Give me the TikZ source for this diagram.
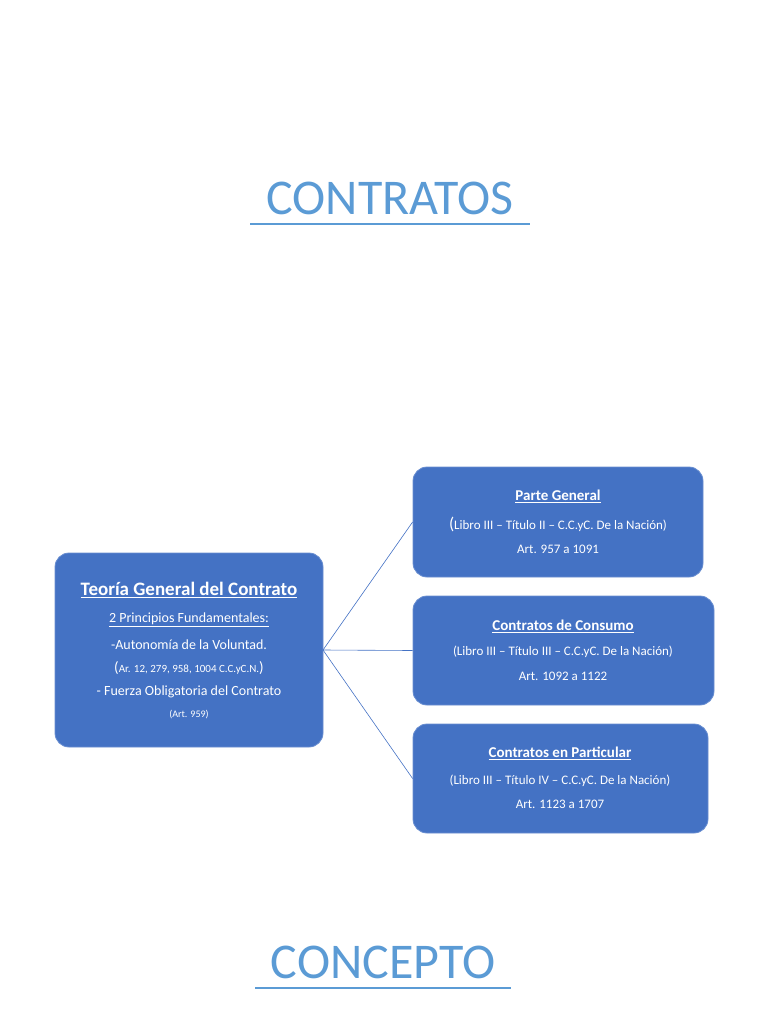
\documentclass[tikz,border=0pt]{standalone}
\usepackage{fontspec}
\setmainfont{Carlito}
\definecolor{bx}{HTML}{4472C4}
\definecolor{tt}{HTML}{5B9BD5}
\begin{document}
\begin{tikzpicture}[x=1pt,y=-1pt,
  card/.style={draw=bx!80!white,line width=0.8pt,fill=bx,rounded corners=14pt,inner sep=0pt},
  tx/.style={text=white,inner sep=0pt,anchor=center},
  link/.style={draw=bx,line width=0.6pt}]
\useasboundingbox (0,0) rectangle (768,1024);
\node[inner sep=0pt,text=tt,font=\fontsize{50}{56}\selectfont] (t1) at (390,198) {CONTRATOS};
\draw[tt,line width=1.5pt] (250,224) -- (530,224);
\node[inner sep=0pt,text=tt,font=\fontsize{50}{56}\selectfont] (t2) at (383,962) {CONCEPTO};
\draw[tt,line width=1.5pt] (255,988) -- (511,988);

\node[card,minimum width=268pt,minimum height=194pt] (L) at (189,650) {};
\node[card,minimum width=290pt,minimum height=110pt] (A) at (558,522) {};
\node[card,minimum width=301pt,minimum height=109pt] (B) at (563.5,650.5) {};
\node[card,minimum width=295pt,minimum height=109pt] (C) at (560.5,778.5) {};

\coordinate (hub) at (323,650);
\draw[link] (hub) -- (A.west);
\draw[link] (hub) -- (B.west);
\draw[link] (hub) -- (C.west);

\node[tx,font=\fontsize{19}{22}\selectfont\bfseries] at (189,590) {\underline{Teoría General del Contrato}};
\node[tx,font=\fontsize{14}{16}\selectfont] at (189,620) {\underline{2 Principios Fundamentales:}};
\node[tx,font=\fontsize{14}{16}\selectfont] at (189,645) {-Autonomía de la Voluntad.};
\node[tx,font=\fontsize{11}{13}\selectfont] at (189,668) {{\fontsize{15}{16}\selectfont(}Ar. 12, 279, 958, 1004 C.C.yC.N.{\fontsize{15}{16}\selectfont)}};
\node[tx,font=\fontsize{14}{16}\selectfont] at (189,692) {- Fuerza Obligatoria del Contrato};
\node[tx,font=\fontsize{10}{12}\selectfont] at (189,715) {(Art. 959)};

\node[tx,font=\fontsize{15}{17}\selectfont\bfseries] at (558,496) {\underline{Parte General}};
\node[tx,font=\fontsize{13}{15}\selectfont] at (558,524) {{\fontsize{17}{18}\selectfont(}Libro III – Título II – C.C.yC. De la Nación)};
\node[tx,font=\fontsize{13}{15}\selectfont] at (558,549) {Art. 957 a 1091};

\node[tx,font=\fontsize{15}{17}\selectfont\bfseries] at (563,626) {\underline{Contratos de Consumo}};
\node[tx,font=\fontsize{13}{15}\selectfont] at (563,652) {(Libro III – Título III – C.C.yC. De la Nación)};
\node[tx,font=\fontsize{13}{15}\selectfont] at (563,676) {Art. 1092 a 1122};

\node[tx,font=\fontsize{15}{17}\selectfont\bfseries] at (560,753) {\underline{Contratos en Particular}};
\node[tx,font=\fontsize{13}{15}\selectfont] at (560,781) {(Libro III – Título IV – C.C.yC. De la Nación)};
\node[tx,font=\fontsize{13}{15}\selectfont] at (560,804) {Art. 1123 a 1707};
\end{tikzpicture}
\end{document}
